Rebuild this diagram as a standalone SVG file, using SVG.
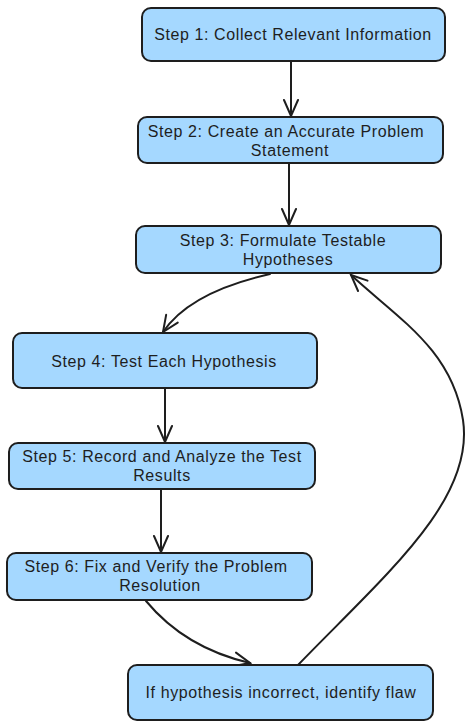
<svg xmlns="http://www.w3.org/2000/svg" width="474" height="727" viewBox="0 0 474 727">
<style>
.box{fill:#a5d8ff;stroke:#1e1e1e;stroke-width:2}
.t{font-family:"Liberation Sans",Arial,sans-serif;font-size:16px;letter-spacing:0.6px;fill:#1e1e1e;text-anchor:middle}
.c{fill:none;stroke:#1e1e1e;stroke-width:2;stroke-linecap:round}
</style>
<defs>
<marker id="ah" viewBox="0 0 20 20" refX="18" refY="10" markerWidth="20" markerHeight="20" markerUnits="userSpaceOnUse" orient="auto">
<path d="M2,3 L18,10 L2,17" fill="none" stroke="#1e1e1e" stroke-width="2" stroke-linecap="round"/>
</marker>
</defs>
<rect width="474" height="727" fill="#ffffff"/>
<g id="connectors">
<path class="c" d="M291,62 L291,116" marker-end="url(#ah)"/>
<path class="c" d="M289,164 L289,225" marker-end="url(#ah)"/>
<path class="c" d="M270,274 Q190,292 163,332" marker-end="url(#ah)"/>
<path class="c" d="M165,389 L165,442" marker-end="url(#ah)"/>
<path class="c" d="M161,490 L161,552" marker-end="url(#ah)"/>
<path class="c" d="M146,601 Q185,648 250,663" marker-end="url(#ah)"/>
<path class="c" d="M298,665 C385,575 475,500 463,420 C452,350 400,320 351,275" marker-end="url(#ah)"/>
</g>
<g id="node1">
<rect class="box" x="142" y="8" width="303" height="53" rx="9"/>
<text class="t" x="293" y="40">Step 1: Collect Relevant Information</text>
</g>
<g id="node2">
<rect class="box" x="138" y="117" width="305" height="46" rx="9"/>
<text class="t" x="286" y="137">Step 2: Create an Accurate Problem</text>
<text class="t" x="290" y="156">Statement</text>
</g>
<g id="node3">
<rect class="box" x="136" y="226" width="305" height="47" rx="9"/>
<text class="t" x="283" y="246">Step 3: Formulate Testable</text>
<text class="t" x="288" y="265">Hypotheses</text>
</g>
<g id="node4">
<rect class="box" x="13" y="333" width="304" height="55" rx="9"/>
<text class="t" x="164" y="367">Step 4: Test Each Hypothesis</text>
</g>
<g id="node5">
<rect class="box" x="9" y="443" width="306" height="46" rx="9"/>
<text class="t" x="162" y="462">Step 5: Record and Analyze the Test</text>
<text class="t" x="162" y="481">Results</text>
</g>
<g id="node6">
<rect class="box" x="7" y="553" width="305" height="47" rx="9"/>
<text class="t" x="156" y="572">Step 6: Fix and Verify the Problem</text>
<text class="t" x="160" y="591">Resolution</text>
</g>
<g id="node7">
<rect class="box" x="128" y="665" width="305" height="55" rx="9"/>
<text class="t" x="281" y="698">If hypothesis incorrect, identify flaw</text>
</g>
</svg>
